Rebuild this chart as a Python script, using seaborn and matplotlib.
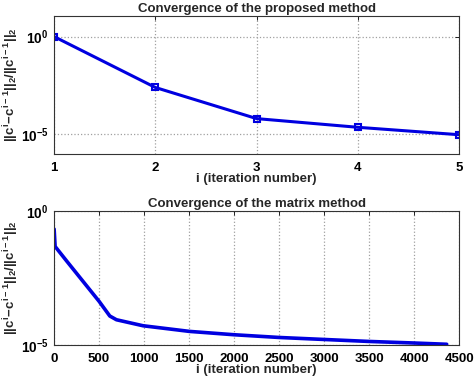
import numpy as np
import pandas as pd
import matplotlib
matplotlib.use("Agg")
import matplotlib.pyplot as plt
import seaborn as sns

# proposed method: relative change per iteration
proposed_iter = [1, 2, 3, 4, 5]
proposed_err = [1.0, 2.5e-3, 6.4e-5, 2.3e-5, 9.6e-6]

# matrix method: values
matrix_iter = [1, 12, 140, 324, 501, 619, 693, 988, 1504, 2000, 2500, 3000, 3500, 4000, 4360]
matrix_err = [0.21, 0.047, 1.35e-2, 2.3e-3, 4.2e-4, 1.2e-4, 8.7e-5, 5.2e-5, 3.2e-5,
              2.4e-5, 1.9e-5, 1.6e-5, 1.35e-5, 1.18e-5, 1.06e-5]

top_title = "Convergence of the proposed method"
bottom_title = "Convergence of the matrix method"
xlabel = "i (iteration number)"
ylabel = r"$||c^i\!-\!c^{i-1}||_2/||c^{i-1}||_2$"

top_xticks = [1, 2, 3, 4, 5]
top_yticks = [1e0, 1e-5]
bottom_xticks = [0, 500, 1000, 1500, 2000, 2500, 3000, 3500, 4000, 4500]
bottom_yticks = [1e0, 1e-5]
ytick_labels = [r"$10^0$", r"$10^{-5}$"]

sns.set_style("white")
plt.rcParams["font.family"] = ["Liberation Sans", "DejaVu Sans"]
plt.rcParams["font.weight"] = "bold"
plt.rcParams["mathtext.fontset"] = "custom"
plt.rcParams["mathtext.rm"] = "Liberation Sans:bold"
plt.rcParams["mathtext.it"] = "Liberation Sans:bold"
plt.rcParams["mathtext.bf"] = "Liberation Sans:bold"
plt.rcParams["mathtext.sf"] = "Liberation Sans:bold"

line_color = "#0000e0"
fs = 9.5

fig = plt.figure(figsize=(4.74, 3.82), dpi=100)
ax1 = fig.add_axes([0.114, 0.597, 0.855, 0.361])
ax2 = fig.add_axes([0.114, 0.097, 0.855, 0.351])

df_top = pd.DataFrame({"i": proposed_iter, "err": proposed_err})
sns.lineplot(data=df_top, x="i", y="err", ax=ax1, color=line_color, lw=2.2,
             marker="s", markersize=5, markerfacecolor="none",
             markeredgecolor=line_color, markeredgewidth=1.5)

df_bot = pd.DataFrame({"i": matrix_iter, "err": matrix_err})
sns.lineplot(data=df_bot, x="i", y="err", ax=ax2, color=line_color, lw=2.6)

for ax, xt, yt, title in [(ax1, top_xticks, top_yticks, top_title),
                          (ax2, bottom_xticks, bottom_yticks, bottom_title)]:
    ax.set_yscale("log")
    ax.set_xticks(xt)
    ax.set_xticklabels([str(v) for v in xt], fontsize=9.5, fontweight="bold")
    ax.set_yticks(yt)
    ax.set_yticklabels(ytick_labels, fontsize=9.8)
    ax.minorticks_off()
    ax.tick_params(direction="in", length=3, width=0.6, top=True, right=True,
                   pad=6, colors="black")
    ax.tick_params(axis="y", pad=4)
    ax.grid(True, linestyle=":", color="#a0a0a0", linewidth=0.9)
    for sp in ax.spines.values():
        sp.set_visible(True)
        sp.set_color("#333333")
        sp.set_linewidth(0.8)
    ax.set_title(title, fontsize=fs, fontweight="bold", pad=3)
    ax.set_xlabel(xlabel, fontsize=fs, fontweight="bold", labelpad=-1)
    ax.set_ylabel(ylabel, fontsize=9.5)
    ax.yaxis.set_label_coords(-0.082, 0.5)

ax1.set_xlim(1, 5)
ax1.set_ylim(1e-6, 10 ** 1.05)
ax2.set_xlim(0, 4500)
ax2.set_ylim(1e-5, 1e0)

fig.savefig("out.png", dpi=100, facecolor="white")
